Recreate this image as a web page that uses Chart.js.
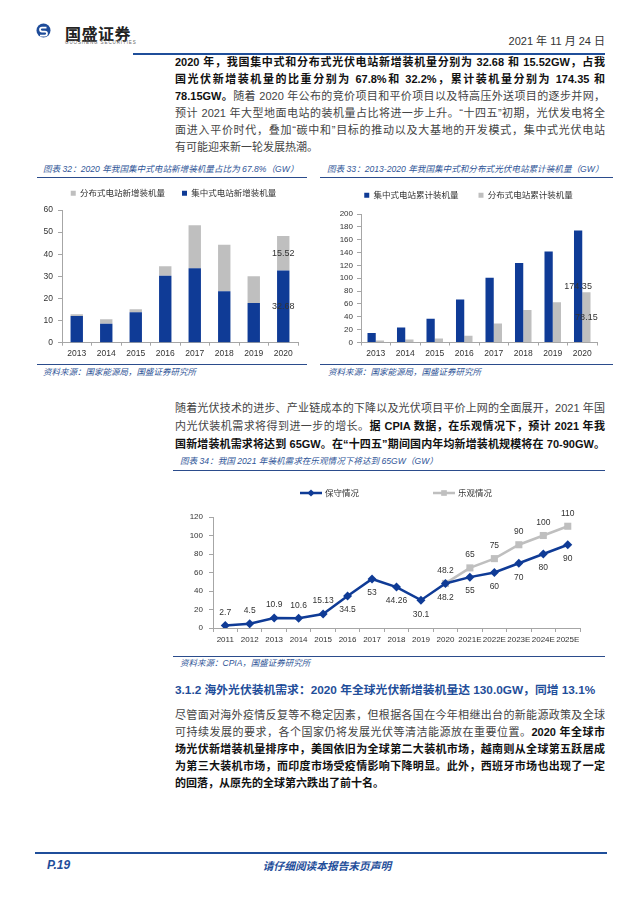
<!DOCTYPE html>
<html lang="zh">
<head>
<meta charset="utf-8">
<title>国盛证券 P.19</title>
<script src="https://cdn.jsdelivr.net/npm/chart.js@4.4.1/dist/chart.umd.min.js"></script>
<style>
  body { margin: 0; background: #fff; }
  #page { position: relative; width: 640px; height: 905px; overflow: hidden;
          font-family: "Liberation Sans", "Noto Sans CJK SC", sans-serif; color: #444; }
  .abs { position: absolute; white-space: nowrap; }
  .ln { position: absolute; left: 175px; width: 430px; height: 16px; line-height: 16px;
        font-size: 11px; text-align: justify; text-align-last: justify; }
  .ln.end { text-align-last: left; }
  .ln b { color: #111; }
  .rule { position: absolute; height: 0; border-top: 1.5px solid #2B4C8C; }
  .cap { position: absolute; font-size: 8.5px; font-style: italic; color: #2F5597;
         white-space: nowrap; line-height: 12px; }
  .cap.t { font-size: 8.6px; }
  canvas { position: absolute; }
</style>
</head>
<body>
<div id="page">
  <!-- header -->
  <svg class="abs" style="left:36px;top:23px" width="15" height="15" viewBox="0 0 30 30">
    <circle cx="15" cy="15" r="14" fill="#1E4C9A"/>
    <path d="M21 9 H12 a4 4 0 0 0 0 8 h6 a4 4 0 0 1 0 8 H8" stroke="#fff" stroke-width="3.5" fill="none"/>
  </svg>
  <div class="abs" style="left:65px;top:21px;font-size:16px;font-weight:bold;color:#222;letter-spacing:0.5px">国盛证券</div>
  <div class="abs" style="left:65px;top:40px;font-size:4.5px;letter-spacing:0.9px;color:#666">GUOSHENG SECURITIES</div>
  <div class="abs" style="right:35px;top:32px;font-size:11px;color:#333">2021 年 11 月 24 日</div>
  <div class="rule" style="left:133px;top:53px;width:472px;border-top:2px solid #1F4E9A"></div>

  <!-- paragraph 1 -->
  <div class="ln" style="top:54px"><b>2020 年，我国集中式和分布式光伏电站新增装机量分别为 32.68 和 15.52GW，占我</b></div>
  <div class="ln" style="top:71px"><b>国光伏新增装机量的比重分别为 67.8%和 32.2%，累计装机量分别为 174.35 和</b></div>
  <div class="ln" style="top:88px"><b>78.15GW。</b>随着 2020 年公布的竞价项目和平价项目以及特高压外送项目的逐步并网，</div>
  <div class="ln" style="top:105px">预计 2021 年大型地面电站的装机量占比将进一步上升。“十四五”初期，光伏发电将全</div>
  <div class="ln" style="top:122px">面进入平价时代，叠加“碳中和”目标的推动以及大基地的开发模式，集中式光伏电站</div>
  <div class="ln end" style="top:139px">有可能迎来新一轮发展热潮。</div>

  <!-- chart 32 / 33 frames -->
  <div class="cap t" style="left:43px;top:163px">图表 32：2020 年我国集中式电站新增装机量占比为 67.8%（GW）</div>
  <div class="cap t" style="left:327px;top:163px">图表 33：2013-2020 年我国集中式和分布式光伏电站累计装机量（GW）</div>
  <div class="rule" style="left:37px;top:177px;width:270px"></div>
  <div class="rule" style="left:320px;top:177px;width:293px"></div>
  <div class="rule" style="left:37px;top:364px;width:270px"></div>
  <div class="rule" style="left:320px;top:364px;width:293px"></div>
  <div class="cap" style="left:43px;top:366px">资料来源：国家能源局，国盛证券研究所</div>
  <div class="cap" style="left:328px;top:366px">资料来源：国家能源局，国盛证券研究所</div>
  <canvas id="c32" width="270" height="197" style="left:37px;top:165px"></canvas>
  <canvas id="c33" width="293" height="197" style="left:320px;top:165px"></canvas>

  <!-- paragraph 2 -->
  <div class="ln" style="top:400px">随着光伏技术的进步、产业链成本的下降以及光伏项目平价上网的全面展开，2021 年国</div>
  <div class="ln" style="top:418px">内光伏装机需求将得到进一步的增长。<b>据 CPIA 数据，在乐观情况下，预计 2021 年我</b></div>
  <div class="ln" style="top:436px"><b>国新增装机需求将达到 65GW。在“十四五”期间国内年均新增装机规模将在 70-90GW。</b></div>

  <!-- chart 34 frame -->
  <div class="cap t" style="left:180px;top:455px">图表 34：我国 2021 年装机需求在乐观情况下将达到 65GW（GW）</div>
  <div class="rule" style="left:173px;top:470px;width:432px"></div>
  <div class="rule" style="left:173px;top:656px;width:432px"></div>
  <div class="cap" style="left:180px;top:657px">资料来源：CPIA，国盛证券研究所</div>
  <canvas id="c34" width="432" height="183" style="left:173px;top:472px"></canvas>

  <!-- section 3.1.2 -->
  <div class="abs" style="left:175px;top:682px;font-size:11.8px;font-weight:bold;color:#1F4E9A;line-height:16px">3.1.2 海外光伏装机需求：2020 年全球光伏新增装机量达 130.0GW，同增 13.1%</div>
  <div class="ln" style="top:707px">尽管面对海外疫情反复等不稳定因素，但根据各国在今年相继出台的新能源政策及全球</div>
  <div class="ln" style="top:724px">可持续发展的要求，各个国家仍将发展光伏等清洁能源放在重要位置。<b>2020 年全球市</b></div>
  <div class="ln" style="top:741px"><b>场光伏新增装机量排序中，美国依旧为全球第二大装机市场，越南则从全球第五跃居成</b></div>
  <div class="ln" style="top:758px"><b>为第三大装机市场，而印度市场受疫情影响下降明显。此外，西班牙市场也出现了一定</b></div>
  <div class="ln end" style="top:775px"><b>的回落，从原先的全球第六跌出了前十名。</b></div>

  <!-- footer -->
  <div class="rule" style="left:35px;top:852px;width:572px;border-top:2px solid #1F4E9A"></div>
  <div class="abs" style="left:47px;top:858px;font-size:12px;font-weight:bold;font-style:italic;color:#1F4E9A">P.19</div>
  <div class="abs" style="left:227px;top:858px;width:200px;text-align:center;font-size:10.7px;font-weight:bold;font-style:italic;color:#1F4E9A">请仔细阅读本报告末页声明</div>
</div>

<script>
const BLUE = '#0F3B96';
const GRAY = '#BFBFBF';
const AXIS = '#A6A6A6';
const TEXT = '#333';

// 图表 32 / 33
const years = ['2013', '2014', '2015', '2016', '2017', '2018', '2019', '2020'];
const newCentral = [12.12, 8.55, 13.74, 30.31, 33.62, 23.30, 17.91, 32.68];
const newDistributed = [0.80, 2.05, 1.39, 4.24, 19.44, 20.96, 12.19, 15.52];
const cumCentral = [14.8, 23.38, 37.12, 67.1, 100.59, 123.84, 141.67, 174.35];
const cumDistributed = [3.1, 4.67, 6.06, 10.32, 29.66, 50.61, 62.63, 78.15];

// 图表 34
const demandYears = ['2011', '2012', '2013', '2014', '2015', '2016', '2017', '2018', '2019', '2020',
                     '2021E', '2022E', '2023E', '2024E', '2025E'];
const conservative = [2.7, 4.5, 10.9, 10.6, 15.13, 34.5, 53, 44.26, 30.1, 48.2, 55, 60, 70, 80, 90];
const optimistic = [null, null, null, null, null, null, null, null, null, 48.2, 65, 75, 90, 100, 110];

Chart.defaults.font.family = '"Liberation Sans", "Noto Sans CJK SC", sans-serif';
Chart.defaults.color = TEXT;
Chart.defaults.animation = false;

// value labels at bar centres / above or below points
const valueLabels = {
    id: 'valueLabels',
    afterDatasetsDraw(chart, args, opts) {
        const ctx = chart.ctx;
        ctx.save();
        ctx.font = `${opts.size || 9}px "Liberation Sans", sans-serif`;
        ctx.fillStyle = TEXT;
        ctx.textAlign = 'center';
        ctx.textBaseline = 'middle';
        chart.data.datasets.forEach((ds, di) => {
            if (!ds.valueLabel) return;
            chart.getDatasetMeta(di).data.forEach((el, i) => {
                const v = ds.data[i];
                const where = ds.valueLabel(i);
                if (v == null || !where) return;
                const p = el.getCenterPoint();
                let y = p.y;
                if (where === 'above') y -= opts.up || 13;
                if (where === 'below') y += opts.down || 14;
                ctx.fillText(String(v), p.x, y);
            });
        });
        ctx.restore();
    }
};

// nudge the built-in legend: a bit more room below it, and a sideways shift
const legendGap = {
    id: 'legendGap',
    beforeLayout(chart, args, opts) {
        const legend = chart.legend;
        if (!legend || legend._gapPatched) return;
        const fit = legend.fit;
        legend.fit = function () { fit.call(this); this.height += opts.extra || 0; };
        legend._gapPatched = true;
    },
    afterLayout(chart, args, opts) {
        const legend = chart.legend;
        if (!legend || !opts.shift) return;
        legend.left += opts.shift;
        legend.right += opts.shift;
    }
};

// line + marker legend for the line chart
const lineLegend = {
    id: 'lineLegend',
    afterDraw(chart, args, opts) {
        const ctx = chart.ctx;
        ctx.save();
        ctx.font = `${opts.size}px "Noto Sans CJK SC", sans-serif`;
        ctx.textBaseline = 'middle';
        chart.data.datasets.forEach((ds, i) => {
            const x = opts.x[i], y = opts.y;
            ctx.strokeStyle = ds.borderColor;
            ctx.lineWidth = ds.borderWidth;
            ctx.beginPath();
            ctx.moveTo(x, y);
            ctx.lineTo(x + 22, y);
            ctx.stroke();
            ctx.fillStyle = ds.backgroundColor;
            Chart.helpers.drawPoint(ctx, { pointStyle: ds.pointStyle, radius: ds.pointRadius * 0.8, borderWidth: 0 }, x + 11, y);
            ctx.fillStyle = TEXT;
            ctx.fillText(ds.label, x + 25, y);
        });
        ctx.restore();
    }
};

function xAxis(size, height, tick, pad) {
    return {
        offset: true,
        grid: { drawOnChartArea: false, offset: true, tickLength: tick, color: AXIS },
        border: { color: AXIS },
        ticks: { font: { size }, color: TEXT, padding: pad, autoSkip: false, maxRotation: 0 },
        afterFit: s => { s.height = height; }
    };
}

function yAxis(max, step, size, width, tick, pad) {
    return {
        min: 0, max,
        grid: { drawOnChartArea: false, tickLength: tick, color: AXIS },
        border: { color: AXIS },
        ticks: { stepSize: step, font: { size }, color: TEXT, padding: pad },
        afterFit: s => { s.width = width; }
    };
}

function barLegend(gap) {
    return {
        position: 'top',
        labels: { boxWidth: 5, boxHeight: 5, padding: gap, color: TEXT,
                  font: { size: 8.5, family: '"Noto Sans CJK SC", sans-serif' } }
    };
}

const lastYear = i => (i === years.length - 1 ? 'center' : null);

new Chart(document.getElementById('c32'), {
    type: 'bar',
    data: {
        labels: years,
        datasets: [
            { label: '集中式电站新增装机量', data: newCentral, backgroundColor: BLUE, valueLabel: lastYear },
            { label: '分布式电站新增装机量', data: newDistributed, backgroundColor: GRAY, valueLabel: lastYear }
        ]
    },
    options: {
        responsive: false,
        layout: { padding: { top: 7, left: 0, right: 9, bottom: 0 } },
        datasets: { bar: { barPercentage: 0.42, categoryPercentage: 1 } },
        scales: {
            x: { ...xAxis(8.5, 19.3, 3, 3), stacked: true },
            y: { ...yAxis(60, 10, 8.5, 25, 4, 5), stacked: true }
        },
        plugins: {
            legend: { ...barLegend(17), reverse: true },
            tooltip: { enabled: false },
            legendGap: { extra: 2.5, shift: 6 },
            valueLabels: { size: 9 }
        }
    },
    plugins: [valueLabels, legendGap]
});

new Chart(document.getElementById('c33'), {
    type: 'bar',
    data: {
        labels: years,
        datasets: [
            { label: '集中式电站累计装机量', data: cumCentral, backgroundColor: BLUE, valueLabel: lastYear },
            { label: '分布式电站累计装机量', data: cumDistributed, backgroundColor: GRAY, valueLabel: lastYear }
        ]
    },
    options: {
        responsive: false,
        layout: { padding: { top: 6, left: 0, right: 16, bottom: 0 } },
        datasets: { bar: { barPercentage: 1, categoryPercentage: 0.56 } },
        scales: {
            x: xAxis(8.5, 19.5, 3, 3),
            y: yAxis(200, 20, 8, 41, 4, 4)
        },
        plugins: {
            legend: barLegend(20),
            tooltip: { enabled: false },
            legendGap: { extra: 4.5, shift: 10 },
            valueLabels: { size: 9 }
        }
    },
    plugins: [valueLabels, legendGap]
});

new Chart(document.getElementById('c34'), {
    type: 'line',
    data: {
        labels: demandYears,
        datasets: [
            { label: '保守情况', data: conservative, borderColor: BLUE, backgroundColor: BLUE,
              borderWidth: 2.5, pointStyle: 'rectRot', pointRadius: 4.5, pointBorderWidth: 0,
              valueLabel: i => (i < 5 ? 'above' : 'below') },
            { label: '乐观情况', data: optimistic, borderColor: GRAY, backgroundColor: GRAY,
              borderWidth: 2.5, pointStyle: 'rect', pointRadius: 5, pointBorderWidth: 0,
              valueLabel: () => 'above' }
        ]
    },
    options: {
        responsive: false,
        layout: { padding: { top: 45, left: 0, right: 25, bottom: 0 } },
        scales: {
            x: xAxis(8, 27, 4, 3),
            y: yAxis(120, 20, 8, 40, 4, 6)
        },
        plugins: {
            legend: { display: false },
            tooltip: { enabled: false },
            lineLegend: { size: 8.5, x: [127, 260], y: 21 },
            valueLabels: { size: 8.5, up: 13, down: 14 }
        }
    },
    plugins: [valueLabels, lineLegend]
});
</script>
</body>
</html>
